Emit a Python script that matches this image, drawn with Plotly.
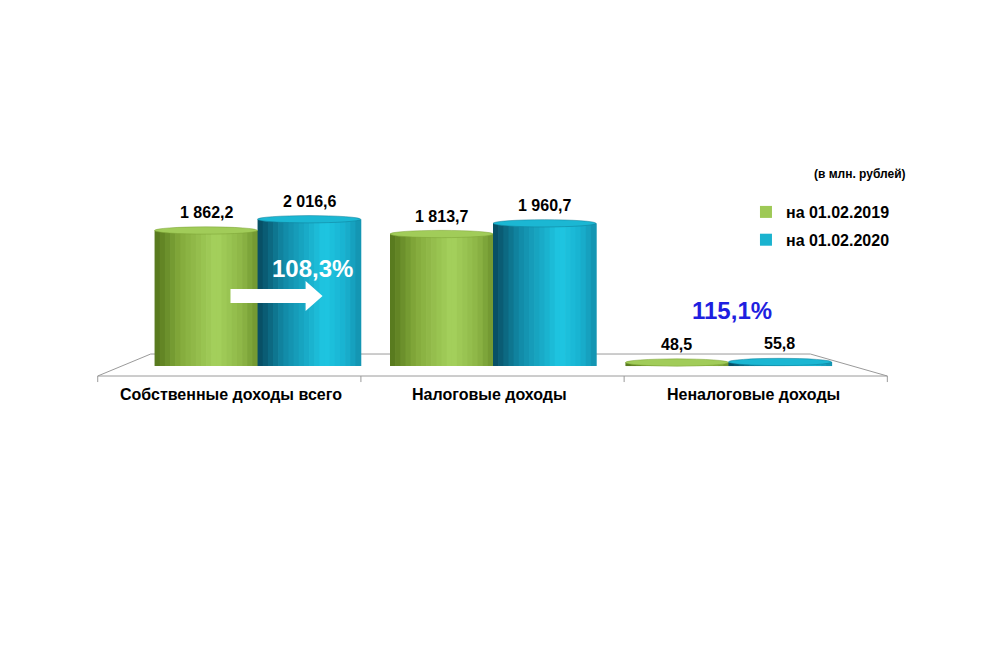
import plotly.graph_objs as go

categories = ['Собственные доходы всего', 'Налоговые доходы', 'Неналоговые доходы']
series_names = ['на 01.02.2019', 'на 01.02.2020']
vals_2019 = [1862.2, 1813.7, 48.5]
vals_2020 = [2016.6, 1960.7, 55.8]
growth_labels = ['108,3%', '115,1%']

# cylinder shading (left -> right)
green_grad = [(0, '#55761c'), (0.25, '#84ab3c'), (0.6, '#a6d25e'), (0.85, '#8db646'), (1, '#6f9530')]
blue_grad = [(0, '#074a5f'), (0.25, '#1289a6'), (0.65, '#1fc7e3'), (0.85, '#19b2d0'), (1, '#1391ae')]
N = 20
W = 0.4375
cx = list(range(len(categories)))


def hex2rgb(h):
    h = h.lstrip('#')
    return [int(h[i:i + 2], 16) for i in (0, 2, 4)]


def grad_col(grad, t):
    for (a, ca), (b, cb) in zip(grad[:-1], grad[1:]):
        if a <= t <= b:
            f = (t - a) / (b - a)
            ra, rb = hex2rgb(ca), hex2rgb(cb)
            return 'rgb(%d,%d,%d)' % tuple(ra[k] + (rb[k] - ra[k]) * f for k in range(3))
    return grad[-1][1]


def fmt(v):
    return '{:,.1f}'.format(v).replace(',', ' ').replace('.', ',')


fig = go.Figure()
for s, (vals, grad, base) in enumerate([(vals_2019, green_grad, -W), (vals_2020, blue_grad, 0)]):
    for i in range(N):
        t = (i + 0.5) / N
        fig.add_trace(go.Bar(
            x=cx, y=vals, width=W / N + 0.003, offset=base + i * W / N,
            marker=dict(color=grad_col(grad, t), line=dict(width=0)),
            name=series_names[s], legendgroup=series_names[s],
            showlegend=(i == N // 2), hoverinfo='skip'))
    for j, v in enumerate(vals):
        # cylinder top
        fig.add_shape(type='circle', xref='x', yref='y',
                      x0=j + base, x1=j + base + W, y0=v - 50, y1=v + 50,
                      fillcolor=grad_col(grad, 0.55), line=dict(width=0.5, color=grad_col(grad, 0.2)),
                      layer='above')
        # value label
        fig.add_annotation(x=j + base + W / 2, y=v, xref='x', yref='y', yshift=18,
                           text='<b>%s</b>' % fmt(v), showarrow=False, xanchor='center',
                           font=dict(family='Liberation Sans', size=16, color='black'))

# floor
xl, xr, xtl, xtr = -0.679, 2.675, -0.454, 2.348
fig.add_shape(type='path', xref='x', yref='y', layer='below',
              path='M %f,-137 L %f,-137 L %f,165 L %f,165 Z' % (xl, xr, xtr, xtl),
              fillcolor='white', line=dict(color='#9a9a9a', width=1))
for k in range(4):
    xd = xl + k * (xr - xl) / 3
    fig.add_shape(type='line', xref='x', yref='y', layer='below',
                  x0=xd, x1=xd, y0=-137, y1=-220, line=dict(color='#9a9a9a', width=1))

# arrow
fig.add_shape(type='path', xref='x', yref='y', layer='above',
              path='M -0.115,1058 L 0.204,1058 L 0.204,1168 L 0.276,962 L 0.204,756 L 0.204,865 L -0.115,865 Z',
              fillcolor='white', line=dict(width=0))

label_shift = [-0.115, -0.013, 0.106]
for j, c in enumerate(categories):
    fig.add_annotation(x=j + label_shift[j], y=-385, xref='x', yref='y', text='<b>%s</b>' % c,
                       showarrow=False, xanchor='center',
                       font=dict(family='Liberation Sans', size=16, color='black'))

fig.add_annotation(x=0.234, y=1346, xref='x', yref='y', text='<b>%s</b>' % growth_labels[0],
                   showarrow=False, xanchor='center',
                   font=dict(family='Liberation Sans', size=24, color='white'))
fig.add_annotation(x=2.017, y=769, xref='x', yref='y', text='<b>%s</b>' % growth_labels[1],
                   showarrow=False, xanchor='center',
                   font=dict(family='Liberation Sans', size=24, color='#1f1fe0'))
fig.add_annotation(x=0.945, y=0.915, xref='paper', yref='paper', text='<b>(в млн. рублей)</b>',
                   showarrow=False, xanchor='center', yanchor='middle',
                   font=dict(family='Liberation Sans', size=12, color='black'))

fig.update_layout(
    width=1000, height=650,
    barmode='overlay',
    paper_bgcolor='white', plot_bgcolor='white',
    margin=dict(l=73, r=103, t=143, b=237),
    font=dict(family='Liberation Sans'),
    legend=dict(x=0.807, y=0.837, xanchor='left', yanchor='top', tracegroupgap=4,
                bgcolor='rgba(0,0,0,0)',
                font=dict(family='Liberation Sans', size=16, color='black', weight='bold')),
    xaxis=dict(range=[-0.75, 2.75], showticklabels=False, showgrid=False, zeroline=False,
               showline=False, ticks=''),
    yaxis=dict(range=[-755, 2954], visible=False, showgrid=False, zeroline=False),
)
fig.write_html('out.html')
